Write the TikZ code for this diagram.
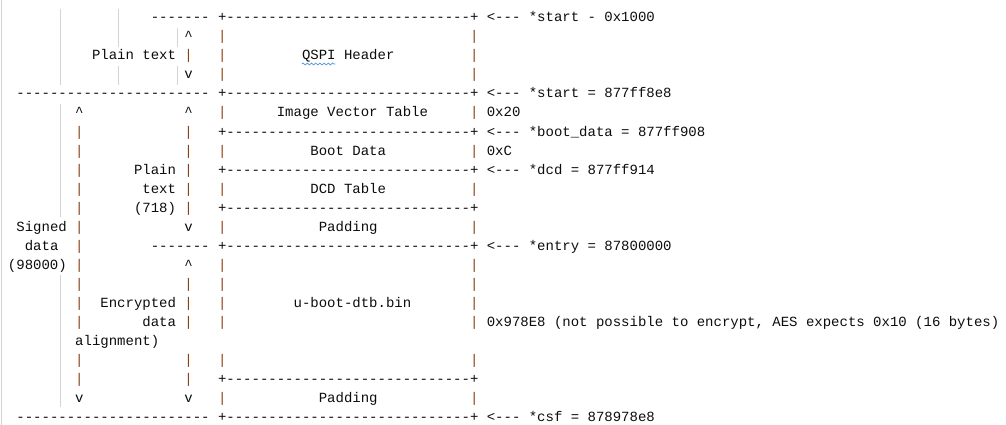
\documentclass[tikz,border=0pt]{standalone}
\usepackage{fontspec}
\setmonofont{Liberation Mono}
\usetikzlibrary{decorations.pathmorphing}

\definecolor{pipebrown}{RGB}{140,66,24}
\definecolor{guidegray}{RGB}{212,212,212}
\definecolor{spellblue}{RGB}{74,144,226}
\definecolor{inkgray}{RGB}{12,12,12}

\newcommand{\pipe}{\textcolor{pipebrown}{|}}
\newcommand{\up}{\char"5E}
\newcommand{\us}{\char"5F}
\newcommand{\plusrow}{+-----------------------------+}
\newcommand{\longdash}{-----------------------}
\newcommand{\shortdash}{-------}

\begin{document}
\begin{tikzpicture}[x=1pt, y=1pt,
    txt/.style={anchor=base west, inner sep=0pt, text=inkgray,
      font=\ttfamily\fontsize{14pt}{19pt}\selectfont}, % one text cell run
    guide/.style={guidegray, line width=0.9pt}, % editor indent guides
  ]
  \useasboundingbox (0,0) rectangle (1006,-425);
  % indent guides
  \draw[guide] (1.5,0) -- (1.5,-425);
  \draw[guide] (60,-9) -- (60,-85) (60,-104) -- (60,-217) (60,-275) -- (60,-407);
  \draw[guide] (118,-9) -- (118,-47) (118,-66) -- (118,-85);
  \draw[guide] (177,-28) -- (177,-47) (177,-66) -- (177,-85);

  \begin{scope}[x=8.4pt, y=-19pt, shift={(16.2pt,-22pt)}]
    % the memory map box
    \foreach \r in {0,4,6,8,10,12,19,21}
      \node[txt] (rule\r) at (24,\r) {\plusrow};
    \foreach \r in {1,2,3,5,7,9,11,13,14,15,16,18,20} {
      \node[txt] (bl\r) at (24,\r) {\pipe};
      \node[txt] (br\r) at (54,\r) {\pipe};
    }
    \node[txt] (qspi) at (34,2) {QSPI Header};
    \node[txt] (ivt) at (31,5) {Image Vector Table};
    \node[txt] (boot) at (35,7) {Boot Data};
    \node[txt] (dcd) at (35,9) {DCD Table};
    \node[txt] (pad1) at (36,11) {Padding};
    \node[txt] (uboot) at (33,15) {u-boot-dtb.bin};
    \node[txt] (pad2) at (36,20) {Padding};

    % addresses and sizes
    \node[txt] (a0) at (56,0) {<--- *start - 0x1000};
    \node[txt] (a4) at (56,4) {<--- *start = 877ff8e8};
    \node[txt] (s5) at (56,5) {0x20};
    \node[txt] (a6) at (56,6) {<--- *boot\us data = 877ff908};
    \node[txt] (s7) at (56,7) {0xC};
    \node[txt] (a8) at (56,8) {<--- *dcd = 877ff914};
    \node[txt] (a12) at (56,12) {<--- *entry = 87800000};
    \node[txt] (s16) at (56,16) {0x978E8 (not possible to encrypt, AES expects 0x10 (16 bytes)};
    \node[txt] (a21) at (56,21) {<--- *csf = 878978e8};

    % inner span marks
    \foreach \r in {2,6,7,8,9,10,14,15,16,18,19}
      \node[txt] (ip\r) at (20,\r) {\pipe};
    \foreach \r in {1,5,13}
      \node[txt] (iu\r) at (20,\r) {\up};
    \foreach \r in {3,11,20}
      \node[txt] (iv\r) at (20,\r) {v};
    \node[txt] (sd0) at (16,0) {\shortdash};
    \node[txt] (sd12) at (16,12) {\shortdash};
    \node[txt] (plain1) at (9,2) {Plain text};
    \node[txt] (plain2) at (14,8) {Plain};
    \node[txt] (text2) at (15,9) {text};
    \node[txt] (len2) at (14,10) {(718)};
    \node[txt] (enc) at (10,15) {Encrypted};
    \node[txt] (encd) at (15,16) {data};

    % outer span marks
    \foreach \r in {6,...,16,18,19}
      \node[txt] (op\r) at (7,\r) {\pipe};
    \node[txt] (ou5) at (7,5) {\up};
    \node[txt] (ov20) at (7,20) {v};
    \node[txt] (ld4) at (0,4) {\longdash};
    \node[txt] (ld21) at (0,21) {\longdash};
    \node[txt] (sig1) at (0,11) {Signed};
    \node[txt] (sig2) at (1,12) {data};
    \node[txt] (sig3) at (-1,13) {(98000)};
    \node[txt] (align) at (7,17) {alignment)};

    % spell check mark
    \draw[spellblue, line width=0.7pt, decorate,
      decoration={snake, amplitude=0.9pt, segment length=4.2pt}]
      ([yshift=-4pt]qspi.base west) -- ([xshift=33.6pt,yshift=-4pt]qspi.base west);
  \end{scope}
\end{tikzpicture}
\end{document}
